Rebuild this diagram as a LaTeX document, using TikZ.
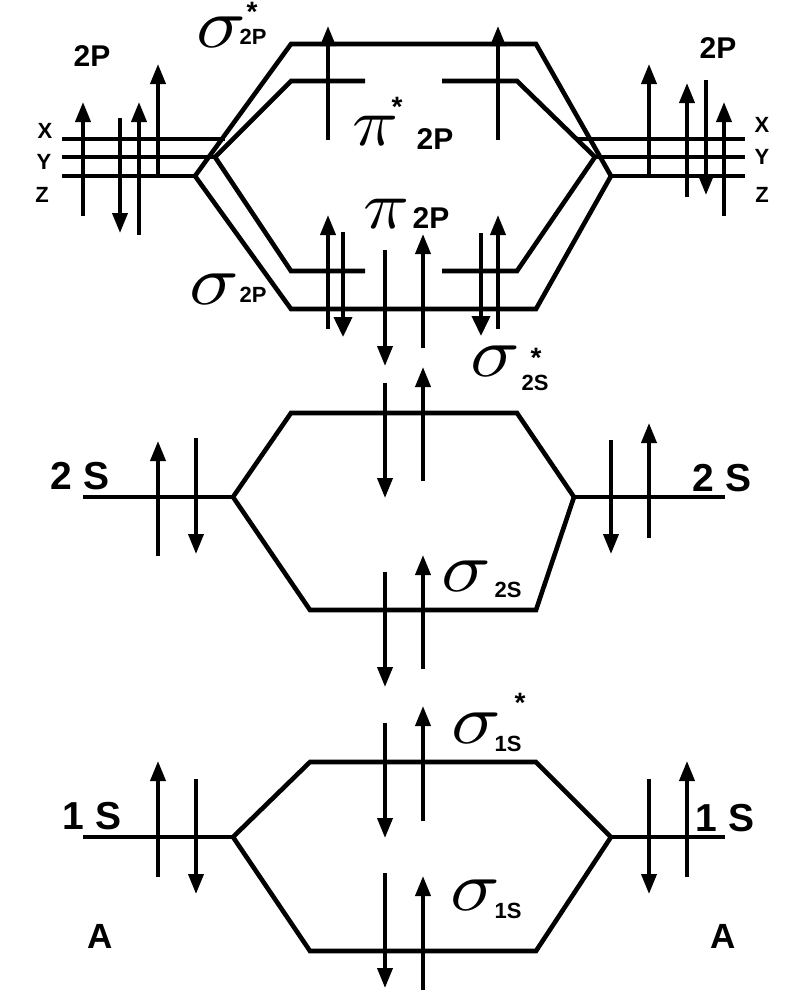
\documentclass[tikz,border=0pt]{standalone}
\usepackage{fontspec}
\setmainfont{Liberation Sans}
\usetikzlibrary{arrows.meta}
\tikzset{
  x=1pt,y=-1pt,
  orbital/.style={line width=4.6pt,line join=miter,miter limit=10},
  level/.style={line width=3.8pt},
  elec/.style={line width=3.8pt,-{Triangle[length=20pt,width=15pt]},shorten >=-1pt},
  elecwide/.style={line width=3.8pt,-{Triangle[length=20pt,width=18pt]},shorten >=-1pt},
  biglab/.style={font=\fontsize{30}{30}\selectfont\bfseries,inner sep=0pt},
  hugelab/.style={font=\fontsize{39}{39}\selectfont\bfseries,inner sep=0pt},
  alab/.style={font=\fontsize{35}{35}\selectfont\bfseries,inner sep=0pt},
  smalllab/.style={font=\fontsize{22}{22}\selectfont\bfseries,inner sep=0pt},
  axislab/.style={font=\fontsize{22}{22}\selectfont\bfseries,inner sep=0pt},
  greek/.style={inner sep=0pt},
  star/.style={font=\fontsize{28}{28}\selectfont\bfseries,inner sep=0pt},
}
\newcommand{\sgm}{\scalebox{8.2}[7.1]{$\sigma$}}
\newcommand{\ppi}{\scalebox{7.6}[6.8]{$\pi$}}
\newcommand{\elecarrow}[4]{%
  \coordinate (s#1) at (#2,#3);\coordinate (e#1) at (#2,#4);
  \draw[elec] (s#1) -- (e#1);}
\newcommand{\elecwidearrow}[4]{%
  \coordinate (s#1) at (#2,#3);\coordinate (e#1) at (#2,#4);
  \draw[elecwide] (s#1) -- (e#1);}
\begin{document}
\begin{tikzpicture}
\useasboundingbox (0,0) rectangle (802,1002);
\fill[white] (0,0) rectangle (802,1002);
% 2P levels
\draw[level] (62,139) -- (225,139);
\draw[level] (62,157) -- (215,157);
\draw[level] (62,176) -- (195,176);
\draw[level] (575,139) -- (745,139);
\draw[level] (595,157) -- (745,157);
\draw[level] (611,176) -- (745,176);
% 2P molecular orbitals
\draw[orbital] (195,176) -- (291,44) -- (536,44) -- (611,176) -- (536,309) -- (291,309) -- cycle;
\draw[orbital] (365,81) -- (291,81) -- (215,157) -- (291,271) -- (365,271);
\draw[orbital] (442,81) -- (517,81) -- (595,157) -- (517,271) -- (442,271);
% 2S
\draw[level] (83,497) -- (233,497);
\draw[level] (574,497) -- (725,497);
\draw[orbital] (233,497) -- (291,413) -- (517,413) -- (574,497) -- (536,610) -- (310,610) -- cycle;
% 1S
\draw[level] (83,837) -- (233,837);
\draw[level] (611,837) -- (725,837);
\draw[orbital] (233,837) -- (310,762) -- (536,762) -- (611,837) -- (536,951) -- (310,951) -- cycle;
% electrons
\elecarrow{a}{83}{216}{103}
\elecarrow{b}{120}{118}{232}
\elecarrow{c}{139}{235}{103}
\elecarrow{d}{158}{176}{65}
\elecarrow{e}{649}{176}{65}
\elecarrow{f}{687}{197}{84}
\elecarrow{g}{706}{80}{194}
\elecarrow{h}{724}{216}{103}
\elecarrow{i}{328}{140}{27}
\elecarrow{j}{498}{140}{27}
\elecarrow{k}{328}{329}{216}
\elecwidearrow{l}{343}{232}{336}
\elecwidearrow{m}{481}{233}{335}
\elecarrow{n}{498}{329}{216}
\elecarrow{o}{385}{250}{365}
\elecarrow{p}{423}{348}{235}
\elecarrow{q}{385}{383}{497}
\elecarrow{r}{423}{481}{368}
\elecarrow{s}{158}{556}{442}
\elecarrow{t}{196}{438}{553}
\elecarrow{u}{611}{440}{553}
\elecarrow{v}{649}{538}{424}
\elecarrow{w}{385}{572}{686}
\elecarrow{x}{423}{669}{556}
\elecarrow{y}{385}{723}{837}
\elecarrow{z}{423}{821}{707}
\elecarrow{aa}{385}{873}{987}
\elecarrow{ab}{423}{990}{877}
\elecarrow{ac}{158}{877}{762}
\elecarrow{ad}{196}{779}{893}
\elecarrow{ae}{649}{779}{893}
\elecarrow{af}{687}{877}{762}
% labels
\node[biglab] (l2pl) at (92,56) {2P};
\node[biglab] (l2pr) at (718,48) {2P};
\node[axislab] (xl) at (45,131) {X};
\node[axislab] (yl) at (44,162) {Y};
\node[axislab] (zl) at (42,195) {Z};
\node[axislab] (xr) at (762,125) {X};
\node[axislab] (yr) at (762,157) {Y};
\node[axislab] (zr) at (762,195) {Z};
\node[greek] (s2ps) at (221,32) {\sgm};
\node[smalllab] (s2pst) at (253,37) {2P};
\node[star] (s2psa) at (252,12) {*};
\node[greek] (s2p) at (214,289) {\sgm};
\node[smalllab] (s2pt) at (253,295) {2P};
\node[greek] (p2ps) at (376,131) {\ppi};
\node[star] (p2psa) at (397,107) {*};
\node[biglab] (p2pst) at (435,139) {2P};
\node[greek] (p2p) at (387,214) {\ppi};
\node[biglab] (p2pt) at (431,218) {2P};
\node[greek] (s2ss) at (495,361) {\sgm};
\node[star] (s2ssa) at (536,358) {*};
\node[smalllab] (s2sst) at (535,383) {2S};
\node[greek] (s2s) at (466,576) {\sgm};
\node[smalllab] (s2st) at (508,590) {2S};
\node[greek] (s1ss) at (476,728) {\sgm};
\node[smalllab] (s1sst) at (508,744) {1S};
\node[star] (s1ssa) at (520,703) {*};
\node[greek] (s1s) at (475,895) {\sgm};
\node[smalllab] (s1st) at (508,911) {1S};
\node[hugelab] (l2sl) at (80,476) {2 S};
\node[hugelab] (l2sr) at (722,478) {2 S};
\node[hugelab] (l1sl) at (92,816) {1 S};
\node[hugelab] (l1sr) at (725,818) {1 S};
\node[alab] (al) at (100,936) {A};
\node[alab] (ar) at (723,936) {A};
\end{tikzpicture}
\end{document}
